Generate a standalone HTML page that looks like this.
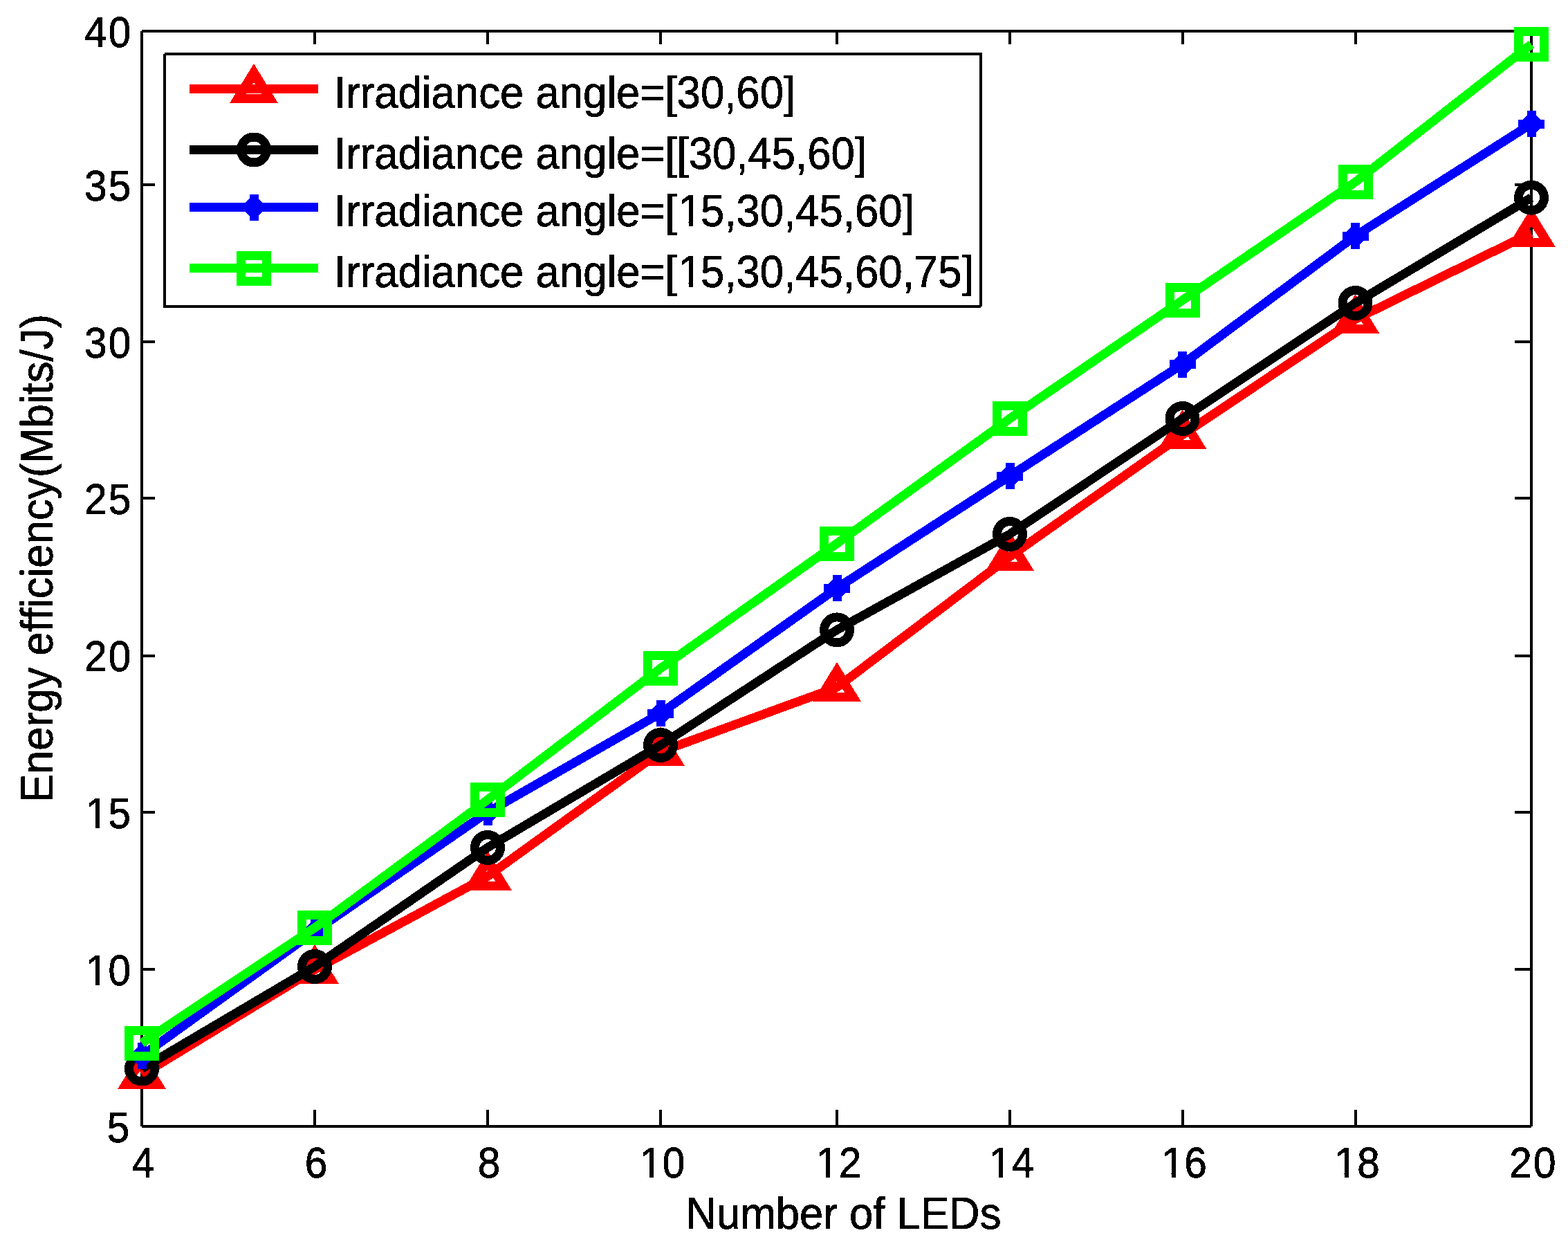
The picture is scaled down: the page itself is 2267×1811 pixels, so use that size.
<!DOCTYPE html>
<html lang="en"><head><meta charset="utf-8"><title>Energy efficiency vs Number of LEDs</title>
<style>html,body{margin:0;padding:0;background:#fff;}body{width:2267px;height:1811px;overflow:hidden;}svg{display:block;}text{font-family:"Liberation Sans",sans-serif;font-size:61.7px;fill:#000;stroke:#000;stroke-width:0.8px;stroke-linejoin:round;font-variant-ligatures:none;font-kerning:none;}.t text{font-size:58.5px;letter-spacing:2.2px;}</style>
</head><body>
<svg width="2267" height="1811" viewBox="0 0 2267 1811">
<defs><filter id="crisp" x="0" y="0" width="2267" height="1811" filterUnits="userSpaceOnUse" color-interpolation-filters="sRGB"><feComponentTransfer><feFuncA type="discrete" tableValues="0 1"/></feComponentTransfer></filter></defs>
<rect x="0" y="0" width="2267" height="1811" fill="#ffffff"/>
<g shape-rendering="crispEdges" fill="#000">
<rect x="203" y="43" width="2013" height="4"/>
<rect x="203" y="1626" width="2013" height="4"/>
<rect x="203" y="43" width="4" height="1587"/>
<rect x="2212" y="43" width="4" height="1587"/>
<rect x="453" y="45" width="4" height="19"/>
<rect x="453" y="1604" width="4" height="24"/>
<rect x="703" y="45" width="4" height="19"/>
<rect x="703" y="1604" width="4" height="24"/>
<rect x="953" y="45" width="4" height="19"/>
<rect x="953" y="1604" width="4" height="24"/>
<rect x="1208" y="45" width="4" height="19"/>
<rect x="1208" y="1604" width="4" height="24"/>
<rect x="1458" y="45" width="4" height="19"/>
<rect x="1458" y="1604" width="4" height="24"/>
<rect x="1708" y="45" width="4" height="19"/>
<rect x="1708" y="1604" width="4" height="24"/>
<rect x="1958" y="45" width="4" height="19"/>
<rect x="1958" y="1604" width="4" height="24"/>
<rect x="203" y="43" width="2" height="2" fill="#fff"/>
<rect x="203" y="1628" width="2" height="2" fill="#fff"/>
<rect x="2214" y="1628" width="2" height="2" fill="#fff"/>
<rect x="205" y="265" width="19" height="4"/>
<rect x="2190" y="265" width="24" height="4"/>
<rect x="205" y="492" width="19" height="4"/>
<rect x="2190" y="492" width="24" height="4"/>
<rect x="205" y="718" width="19" height="4"/>
<rect x="2190" y="718" width="24" height="4"/>
<rect x="205" y="946" width="19" height="4"/>
<rect x="2190" y="946" width="24" height="4"/>
<rect x="205" y="1172" width="19" height="4"/>
<rect x="2190" y="1172" width="24" height="4"/>
<rect x="205" y="1399" width="19" height="4"/>
<rect x="2190" y="1399" width="24" height="4"/>
</g>
<g filter="url(#crisp)">
<g text-anchor="middle" class="t">
<text transform="translate(208 1701.6) scale(1 1.07)">4</text>
<text transform="translate(458 1701.6) scale(1 1.07)">6</text>
<text transform="translate(708 1701.6) scale(1 1.07)">8</text>
<text transform="translate(956.8 1701.6) scale(1 1.07)" dx="1.8 -1.8">10</text>
<text transform="translate(1211.8 1701.6) scale(1 1.07)" dx="1.8 -1.8">12</text>
<text transform="translate(1461.8 1701.6) scale(1 1.07)" dx="1.8 -1.8">14</text>
<text transform="translate(1711.3 1701.6) scale(1 1.07)" dx="1.8 -1.8">16</text>
<text transform="translate(1961.3 1701.6) scale(1 1.07)" dx="1.8 -1.8">18</text>
<text transform="translate(2217 1701.6) scale(1 1.07)">20</text>
</g>
<g text-anchor="end" class="t">
<text transform="translate(191.5 67.7) scale(1 1.07)">40</text>
<text transform="translate(191.5 289.7) scale(1 1.07)">35</text>
<text transform="translate(191.5 516.7) scale(1 1.07)">30</text>
<text transform="translate(191.5 742.7) scale(1 1.07)">25</text>
<text transform="translate(191.5 970.2) scale(1 1.07)">20</text>
<text transform="translate(189.5 1196.7) scale(1 1.07)" dx="1.8 -1.8">15</text>
<text transform="translate(189.5 1423.7) scale(1 1.07)" dx="1.8 -1.8">10</text>
<text transform="translate(189.6 1650.7) scale(1 1.07)">5</text>
</g>
<text transform="translate(1219.5 1776) scale(1 1.04)" text-anchor="middle">Number of LEDs</text>
<text transform="translate(76 807) rotate(-90) scale(1 1.04)" text-anchor="middle">Energy efficiency(Mbits/J)</text>
</g>
<g shape-rendering="crispEdges">
<polyline points="205,1553.5 455,1401.5 705,1266.5 955,1086.5 1210,993.5 1460,804.5 1709.5,628.5 1959.5,461.5 2214,336.5" fill="none" stroke="#ff0000" stroke-width="13" stroke-linejoin="round"/>
<path fill="#ff0000" fill-rule="evenodd" d="M170 1574L240 1574L205 1517ZM193.5 1561L216.5 1561L205 1544Z"/>
<path fill="#ff0000" fill-rule="evenodd" d="M420 1422L490 1422L455 1365ZM443.5 1409L466.5 1409L455 1392Z"/>
<path fill="#ff0000" fill-rule="evenodd" d="M670 1287L740 1287L705 1230ZM693.5 1274L716.5 1274L705 1257Z"/>
<path fill="#ff0000" fill-rule="evenodd" d="M920 1107L990 1107L955 1050ZM943.5 1094L966.5 1094L955 1077Z"/>
<path fill="#ff0000" fill-rule="evenodd" d="M1175 1014L1245 1014L1210 957ZM1198.5 1001L1221.5 1001L1210 984Z"/>
<path fill="#ff0000" fill-rule="evenodd" d="M1425 825L1495 825L1460 768ZM1448.5 812L1471.5 812L1460 795Z"/>
<path fill="#ff0000" fill-rule="evenodd" d="M1674.5 649L1744.5 649L1709.5 592ZM1698 636L1721 636L1709.5 619Z"/>
<path fill="#ff0000" fill-rule="evenodd" d="M1924.5 482L1994.5 482L1959.5 425ZM1948 469L1971 469L1959.5 452Z"/>
<path fill="#ff0000" fill-rule="evenodd" d="M2179 357L2249 357L2214 300ZM2202.5 344L2225.5 344L2214 327Z"/>
<polyline points="205,1544.5 455,1397 705,1225 955,1077 1210,910.4 1460,772 1709.5,605 1959.5,438 2214,285.7" fill="none" stroke="#000000" stroke-width="13" stroke-linejoin="round"/>
<circle cx="205" cy="1544.5" r="18.5" fill="none" stroke="#000000" stroke-width="13"/>
<circle cx="455" cy="1397" r="18.5" fill="none" stroke="#000000" stroke-width="13"/>
<circle cx="705" cy="1225" r="18.5" fill="none" stroke="#000000" stroke-width="13"/>
<circle cx="955" cy="1077" r="18.5" fill="none" stroke="#000000" stroke-width="13"/>
<circle cx="1210" cy="910.4" r="18.5" fill="none" stroke="#000000" stroke-width="13"/>
<circle cx="1460" cy="772" r="18.5" fill="none" stroke="#000000" stroke-width="13"/>
<circle cx="1709.5" cy="605" r="18.5" fill="none" stroke="#000000" stroke-width="13"/>
<circle cx="1959.5" cy="438" r="18.5" fill="none" stroke="#000000" stroke-width="13"/>
<circle cx="2214" cy="285.7" r="18.5" fill="none" stroke="#000000" stroke-width="13"/>
<polyline points="205,1526 455,1346 705,1174 955,1031 1210,850 1460,688 1709.5,526.5 1959.5,341 2214,179" fill="none" stroke="#0000ff" stroke-width="13" stroke-linejoin="round"/>
<path fill="#0000ff" d="M198.5 1507L211.5 1507L211.5 1513.5L217.5 1519.5L224 1519.5L224 1532.5L217.5 1532.5L211.5 1538.5L211.5 1545L198.5 1545L198.5 1538.5L192.5 1532.5L186 1532.5L186 1519.5L192.5 1519.5L198.5 1513.5Z"/>
<path fill="#0000ff" d="M448.5 1327L461.5 1327L461.5 1333.5L467.5 1339.5L474 1339.5L474 1352.5L467.5 1352.5L461.5 1358.5L461.5 1365L448.5 1365L448.5 1358.5L442.5 1352.5L436 1352.5L436 1339.5L442.5 1339.5L448.5 1333.5Z"/>
<path fill="#0000ff" d="M698.5 1155L711.5 1155L711.5 1161.5L717.5 1167.5L724 1167.5L724 1180.5L717.5 1180.5L711.5 1186.5L711.5 1193L698.5 1193L698.5 1186.5L692.5 1180.5L686 1180.5L686 1167.5L692.5 1167.5L698.5 1161.5Z"/>
<path fill="#0000ff" d="M948.5 1012L961.5 1012L961.5 1018.5L967.5 1024.5L974 1024.5L974 1037.5L967.5 1037.5L961.5 1043.5L961.5 1050L948.5 1050L948.5 1043.5L942.5 1037.5L936 1037.5L936 1024.5L942.5 1024.5L948.5 1018.5Z"/>
<path fill="#0000ff" d="M1203.5 831L1216.5 831L1216.5 837.5L1222.5 843.5L1229 843.5L1229 856.5L1222.5 856.5L1216.5 862.5L1216.5 869L1203.5 869L1203.5 862.5L1197.5 856.5L1191 856.5L1191 843.5L1197.5 843.5L1203.5 837.5Z"/>
<path fill="#0000ff" d="M1453.5 669L1466.5 669L1466.5 675.5L1472.5 681.5L1479 681.5L1479 694.5L1472.5 694.5L1466.5 700.5L1466.5 707L1453.5 707L1453.5 700.5L1447.5 694.5L1441 694.5L1441 681.5L1447.5 681.5L1453.5 675.5Z"/>
<path fill="#0000ff" d="M1703 507.5L1716 507.5L1716 514L1722 520L1728.5 520L1728.5 533L1722 533L1716 539L1716 545.5L1703 545.5L1703 539L1697 533L1690.5 533L1690.5 520L1697 520L1703 514Z"/>
<path fill="#0000ff" d="M1953 322L1966 322L1966 328.5L1972 334.5L1978.5 334.5L1978.5 347.5L1972 347.5L1966 353.5L1966 360L1953 360L1953 353.5L1947 347.5L1940.5 347.5L1940.5 334.5L1947 334.5L1953 328.5Z"/>
<path fill="#0000ff" d="M2207.5 160L2220.5 160L2220.5 166.5L2226.5 172.5L2233 172.5L2233 185.5L2226.5 185.5L2220.5 191.5L2220.5 198L2207.5 198L2207.5 191.5L2201.5 185.5L2195 185.5L2195 172.5L2201.5 172.5L2207.5 166.5Z"/>
<polyline points="205,1507.5 455,1341 705,1156 955,966 1210,785.5 1460,605 1709.5,434 1959.5,263 2214,64" fill="none" stroke="#00ff00" stroke-width="13" stroke-linejoin="round"/>
<rect x="186.5" y="1489" width="37" height="37" fill="none" stroke="#00ff00" stroke-width="13"/>
<rect x="436.5" y="1322.5" width="37" height="37" fill="none" stroke="#00ff00" stroke-width="13"/>
<rect x="686.5" y="1137.5" width="37" height="37" fill="none" stroke="#00ff00" stroke-width="13"/>
<rect x="936.5" y="947.5" width="37" height="37" fill="none" stroke="#00ff00" stroke-width="13"/>
<rect x="1191.5" y="767" width="37" height="37" fill="none" stroke="#00ff00" stroke-width="13"/>
<rect x="1441.5" y="586.5" width="37" height="37" fill="none" stroke="#00ff00" stroke-width="13"/>
<rect x="1691" y="415.5" width="37" height="37" fill="none" stroke="#00ff00" stroke-width="13"/>
<rect x="1941" y="244.5" width="37" height="37" fill="none" stroke="#00ff00" stroke-width="13"/>
<rect x="2195.5" y="45.5" width="37" height="37" fill="none" stroke="#00ff00" stroke-width="13"/>
</g>
<g shape-rendering="crispEdges">
<rect x="238" y="78" width="1180" height="365" fill="#fff" stroke="#000" stroke-width="4"/>
<rect x="236" y="76" width="2" height="2" fill="#fff"/>
<rect x="1418" y="443" width="2" height="2" fill="#fff"/>
<rect x="274" y="122" width="186" height="13" fill="#ff0000"/>
<path fill="#ff0000" fill-rule="evenodd" d="M332 149L402 149L367 92ZM355.5 136L378.5 136L367 119Z"/>
<rect x="274" y="210" width="186" height="13" fill="#000000"/>
<circle cx="367" cy="216.5" r="18.5" fill="none" stroke="#000000" stroke-width="13"/>
<rect x="274" y="293" width="186" height="13" fill="#0000ff"/>
<path fill="#0000ff" d="M360.5 280.5L373.5 280.5L373.5 287L379.5 293L386 293L386 306L379.5 306L373.5 312L373.5 318.5L360.5 318.5L360.5 312L354.5 306L348 306L348 293L354.5 293L360.5 287Z"/>
<rect x="274" y="381" width="186" height="13" fill="#00ff00"/>
<rect x="348.5" y="369" width="37" height="37" fill="none" stroke="#00ff00" stroke-width="13"/>
</g>
<g filter="url(#crisp)">
<text transform="translate(483 156.3) scale(1 1.04)">Irradiance angle=[30,60]</text>
<text transform="translate(483 244.3) scale(1 1.04)">Irradiance angle=[[30,45,60]</text>
<text transform="translate(483 327.3) scale(1 1.04)" dx="0 0 0 0 0 0 0 0 0 0 0 0 0 0 0 0 0 0 1.8 -1.8">Irradiance angle=[15,30,45,60]</text>
<text transform="translate(483 415.3) scale(1 1.04)" dx="0 0 0 0 0 0 0 0 0 0 0 0 0 0 0 0 0 0 1.8 -1.8">Irradiance angle=[15,30,45,60,75]</text>
</g>
<g shape-rendering="crispEdges" fill="#fff">
<rect x="927" y="1697" width="12" height="6"/>
<rect x="945" y="1697" width="12" height="6"/>
<rect x="1182" y="1697" width="12" height="6"/>
<rect x="1200" y="1697" width="12" height="6"/>
<rect x="1432" y="1697" width="12" height="6"/>
<rect x="1450" y="1697" width="12" height="6"/>
<rect x="1682" y="1697" width="12" height="6"/>
<rect x="1700" y="1697" width="12" height="6"/>
<rect x="1932" y="1697" width="12" height="6"/>
<rect x="1950" y="1697" width="12" height="6"/>
<rect x="126" y="1192" width="12" height="6"/>
<rect x="144" y="1192" width="12" height="6"/>
<rect x="126" y="1419" width="12" height="6"/>
<rect x="144" y="1419" width="12" height="6"/>
<rect x="984" y="322" width="12" height="6"/>
<rect x="1002" y="322" width="12" height="6"/>
<rect x="984" y="410" width="12" height="6"/>
<rect x="1002" y="410" width="12" height="6"/>
</g>
</svg>
</body></html>
